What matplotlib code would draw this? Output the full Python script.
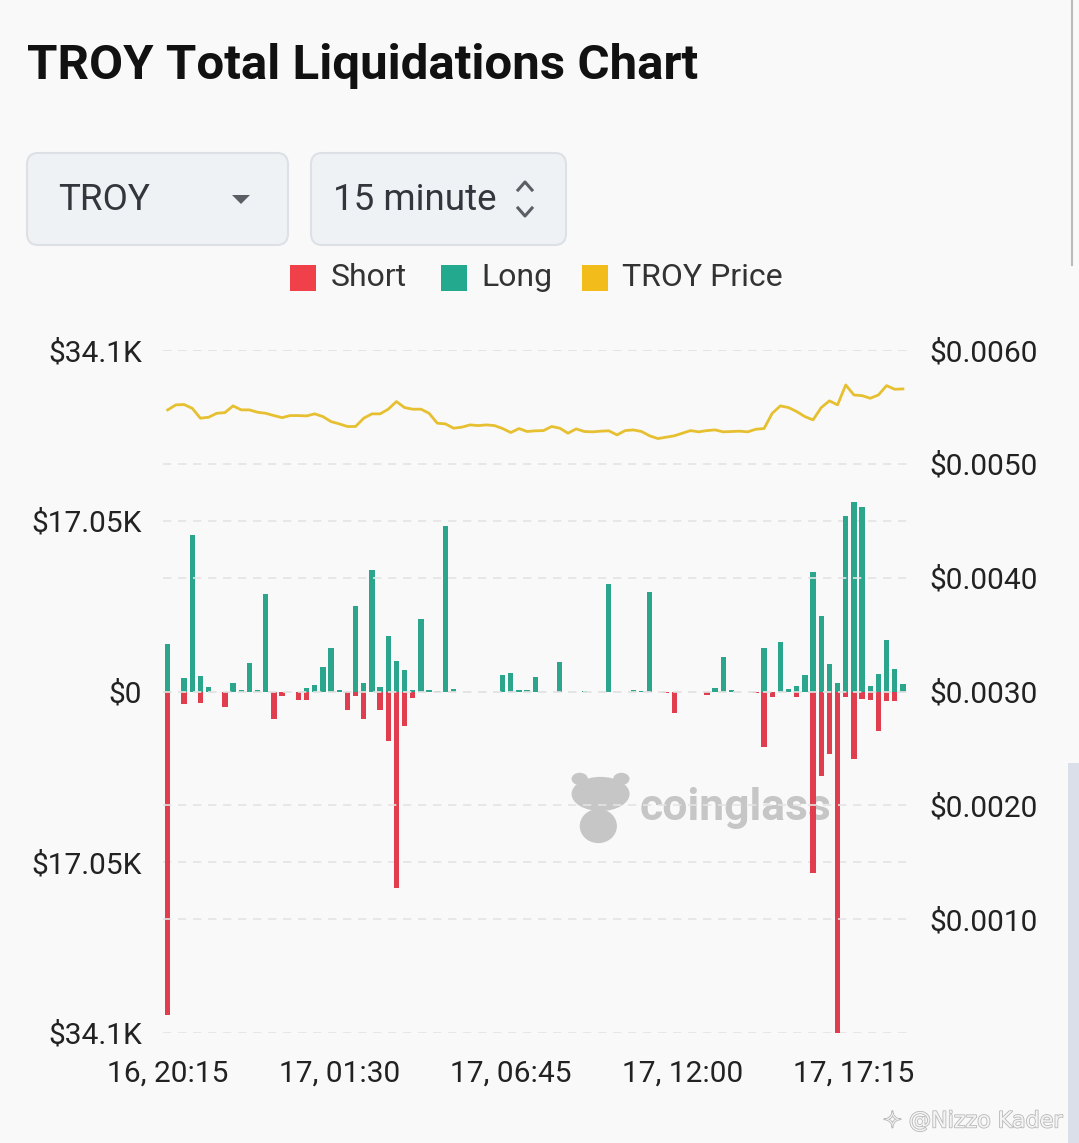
import numpy as np
import matplotlib.pyplot as plt
import matplotlib.patheffects as pe
from matplotlib.patches import FancyBboxPatch, Rectangle, Ellipse, Polygon

plt.rcParams['font.family'] = ['Roboto', 'DejaVu Sans']

# 15 minute bars, 16 20:15 -> 17 18:45
n_bars = 91
tick_idx = [0, 21, 42, 63, 84]
tick_labels = ['16, 20:15', '17, 01:30', '17, 06:45', '17, 12:00', '17, 17:15']

# long liquidations ($K)
long_k = [4.76, 0, 1.33, 15.6, 1.53, 0.4, 0, 0, 0.83, 0.1,
          2.86, 0.1, 9.74, 0, 0, 0, 0, 0.33, 0.6, 2.43,
          4.36, 0.1, 0, 8.54, 0.8, 12.1, 0.4, 5.52, 3.09, 2.13,
          0.13, 7.28, 0.1, 0.05, 16.5, 0.2, 0, 0, 0, 0,
          0, 1.63, 1.83, 0.15, 0.15, 1.46, 0, 0, 2.92, 0,
          0, 0.05, 0, 0, 10.77, 0, 0, 0.15, 0.05, 9.9,
          0, 0, 0, 0, 0, 0, 0, 0.33, 3.42, 0.1,
          0, 0, 0, 4.32, 0, 4.99, 0.27, 0.53, 1.66, 11.9,
          7.51, 2.76, 0.87, 17.55, 18.94, 18.38, 0.57, 1.7, 5.12, 2.26,
          0.7]

# short liquidations ($K), drawn below zero
short_k = [32.3, 0, 1.23, 0, 1.13, 0, 0, 1.56, 0, 0,
           0, 0, 0, 2.79, 0.4, 0, 0.8, 0.87, 0, 0,
           0, 0, 1.8, 0.47, 2.79, 0, 1.86, 4.95, 19.6, 3.49,
           0.63, 0, 0, 0, 0, 0, 0, 0, 0, 0.05,
           0, 0, 0, 0, 0, 0, 0, 0, 0, 0,
           0, 0, 0, 0, 0, 0, 0, 0, 0, 0,
           0, 0.15, 2.1, 0, 0, 0, 0.3, 0, 0, 0,
           0, 0, 0.1, 5.58, 0.57, 0, 0, 0.57, 0, 18.1,
           8.44, 6.21, 34.2, 0.57, 6.71, 0.7, 0.8, 3.96, 0.97, 0.97,
           0]

price = [0.005474, 0.005518, 0.005521, 0.005488, 0.005401, 0.005409, 0.005444, 0.005450, 0.005509, 0.005474,
         0.005474, 0.005453, 0.005444, 0.005424, 0.005406, 0.005424, 0.005424, 0.005421, 0.005439, 0.005415,
         0.005371, 0.005351, 0.005328, 0.005328, 0.005401, 0.005439, 0.005439, 0.005480, 0.005547, 0.005494,
         0.005480, 0.005480, 0.005444, 0.005357, 0.005351, 0.005313, 0.005322, 0.005342, 0.005336, 0.005342,
         0.005336, 0.005310, 0.005275, 0.005310, 0.005284, 0.005290, 0.005292, 0.005328, 0.005313, 0.005269,
         0.005307, 0.005284, 0.005281, 0.005287, 0.005290, 0.005254, 0.005292, 0.005298, 0.005284, 0.005246,
         0.005222, 0.005234, 0.005246, 0.005269, 0.005292, 0.005281, 0.005292, 0.005298, 0.005281, 0.005284,
         0.005287, 0.005281, 0.005304, 0.005310, 0.005444, 0.005509, 0.005494, 0.005459, 0.005415, 0.005386,
         0.005494, 0.005553, 0.005518, 0.005693, 0.005605, 0.005599, 0.005576, 0.005605, 0.005687, 0.005655,
         0.005658]

bg = '#f9f9f9'
red = '#e03e4e'
green = '#2ba58c'
gold = '#e6c030'
W, H = 1079, 1143


def fx(px):
    return px / W


def fy(py):
    return 1 - py / H


fig = plt.figure(figsize=(10.79, 11.43), dpi=100, facecolor=bg)

# title
fig.text(fx(27), fy(66), 'TROY Total Liquidations Chart', fontsize=35.5,
         fontweight='bold', color='#111111', va='center', ha='left')

# dropdown boxes
for x0, x1, tx, label in [(27, 288, 58, 'TROY'), (311, 566, 333, '15 minute')]:
    box = FancyBboxPatch((fx(x0), fy(245)), fx(x1 - x0), 92 / H,
                         boxstyle='round,pad=0,rounding_size=0.01', transform=fig.transFigure,
                         facecolor='#eff2f5', edgecolor='#dde1e6', linewidth=1.5)
    fig.patches.append(box)
    fig.text(fx(tx), fy(200), label, fontsize=26.5, color='#33373d',
             va='center', ha='left')
# dropdown arrow
fig.patches.append(Polygon([(fx(232), fy(195)), (fx(250), fy(195)), (fx(241), fy(204))],
                           closed=True, transform=fig.transFigure, facecolor='#5a5f66',
                           edgecolor='none'))
# up / down chevrons
fig.lines.append(plt.Line2D([fx(518), fx(525), fx(532)], [fy(190), fy(182), fy(190)],
                            transform=fig.transFigure, color='#5a5f66', linewidth=2.2))
fig.lines.append(plt.Line2D([fx(518), fx(525), fx(532)], [fy(208), fy(216), fy(208)],
                            transform=fig.transFigure, color='#5a5f66', linewidth=2.2))

# legend
for sx, tx, col, lab in [(290, 331, '#f0404a', 'Short'), (441, 481, '#22a98e', 'Long'),
                         (582, 622, '#f2bd1a', 'TROY Price')]:
    fig.patches.append(Rectangle((fx(sx), fy(291)), fx(26), 26 / H,
                                 transform=fig.transFigure, facecolor=col, edgecolor='none'))
    fig.text(fx(tx), fy(278), lab, fontsize=23, color='#333333', va='center', ha='left')

ax = fig.add_axes([fx(163.2), 110 / H, fx(743.8), 683 / H])
ax.set_facecolor(bg)
x = np.arange(n_bars)
ax.set_xlim(-0.55, 90.5)
ax.set_ylim(-34.1, 34.1)

# coinglass watermark
ax.text(0.641, 0.329, 'coinglass', transform=ax.transAxes, fontsize=32, fontweight='bold',
        color='#c6c6c6', va='center', ha='left', zorder=1)
ax.add_patch(Ellipse((0.588, 0.35), 0.078, 0.05, transform=ax.transAxes,
                     facecolor='#c6c6c6', edgecolor='none', zorder=1))
ax.add_patch(Ellipse((0.560, 0.372), 0.022, 0.018, transform=ax.transAxes,
                     facecolor='#c6c6c6', edgecolor='none', zorder=1))
ax.add_patch(Ellipse((0.616, 0.372), 0.022, 0.018, transform=ax.transAxes,
                     facecolor='#c6c6c6', edgecolor='none', zorder=1))
ax.add_patch(Ellipse((0.585, 0.303), 0.05, 0.05, transform=ax.transAxes,
                     facecolor='#c6c6c6', edgecolor='none', zorder=1))

ax.bar(x, long_k, width=0.65, color=green, zorder=3)
ax.bar(x, -np.array(short_k), width=0.65, color=red, zorder=3)

ax.set_yticks([34.1, 17.05, 0, -17.05, -34.1])
ax.set_yticklabels(['$34.1K', '$17.05K', '$0', '$17.05K', '$34.1K'])
ax.set_xticks(tick_idx)
ax.set_xticklabels(tick_labels)
ax.tick_params(axis='y', length=0, labelsize=21.5, labelcolor='#222222', pad=15)
ax.tick_params(axis='x', length=0, labelsize=21.5, labelcolor='#222222', pad=19)
for s in ax.spines.values():
    s.set_visible(False)
ax.grid(axis='y', color='#e4e4e4', linestyle=(0, (5, 4)), linewidth=1.2, zorder=0)

ax2 = ax.twinx()
ax2.set_ylim(0, 0.006)
ax2.plot(x, price, color=gold, linewidth=2, zorder=4)
ax2.set_yticks([0.001, 0.002, 0.003, 0.004, 0.005, 0.006])
ax2.set_yticklabels(['$0.0010', '$0.0020', '$0.0030', '$0.0040', '$0.0050', '$0.0060'])
ax2.tick_params(axis='y', length=0, labelsize=21.5, labelcolor='#222222', pad=16)
for s in ax2.spines.values():
    s.set_visible(False)
ax2.grid(axis='y', color='#e4e4e4', linestyle=(0, (5, 4)), linewidth=1.2)
ax2.set_zorder(ax.get_zorder() + 1)
ax2.patch.set_visible(False)

# screen edge decorations
fig.patches.append(Rectangle((fx(1068), 0), fx(11), 380 / H, transform=fig.transFigure,
                             facecolor='#dadfea', edgecolor='none'))
fig.lines.append(plt.Line2D([fx(1072), fx(1072)], [1, fy(265)],
                            transform=fig.transFigure, color='#bbbbbb', linewidth=1.5))
fig.text(fx(1063), fy(1121), '\u2727 @Nizzo Kader', fontsize=16, color='#f4f4f4',
         va='center', ha='right', family=['DejaVu Sans'],
         path_effects=[pe.withStroke(linewidth=1.2, foreground='#b8b8b8')])

fig.savefig('out.png', dpi=100, facecolor=bg)
